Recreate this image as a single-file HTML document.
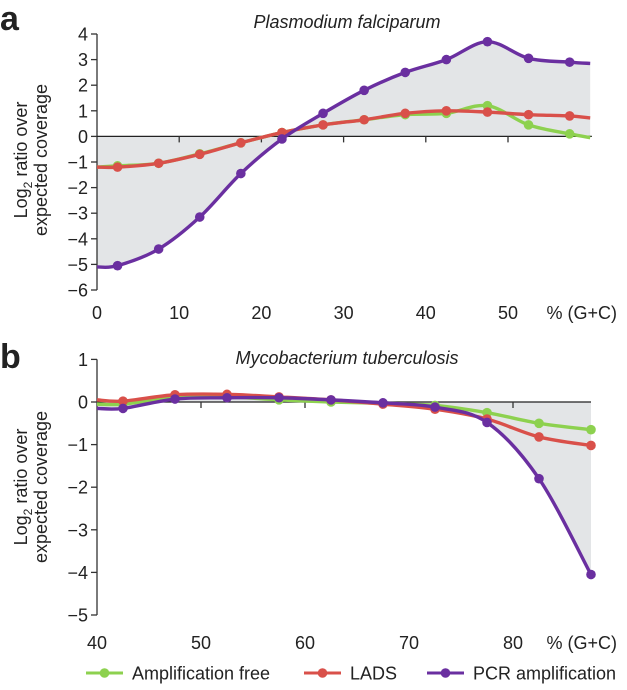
<!DOCTYPE html>
<html><head><meta charset="utf-8"><style>
body{margin:0;background:#fff;}
svg text{font-family:"Liberation Sans",sans-serif;fill:#222;}
</style></head><body>
<svg id="c" width="627" height="685"></svg>
<script>
const aX=[0,2.5,7.5,12.5,17.5,22.5,27.5,32.5,37.5,42.5,47.5,52.5,57.5,60];
const aPCR=[-5.1,-5.05,-4.4,-3.15,-1.45,-0.1,0.9,1.8,2.5,3.0,3.7,3.05,2.9,2.85];
const aLADS=[-1.2,-1.2,-1.05,-0.7,-0.25,0.15,0.45,0.65,0.9,1.0,0.95,0.85,0.8,0.72];
const aFree=[-1.2,-1.15,-1.05,-0.68,-0.25,0.15,0.45,0.65,0.85,0.9,1.2,0.45,0.1,-0.05];
const aXTicks=[0,10,20,30,40,50];
const aYTicks=[4,3,2,1,0,-1,-2,-3,-4,-5,-6];
const bX=[40,42.5,47.5,52.5,57.5,62.5,67.5,72.5,77.5,82.5,87.5];
const bPCR=[-0.15,-0.15,0.07,0.1,0.1,0.05,-0.02,-0.12,-0.48,-1.8,-4.05];
const bLADS=[0.05,0.02,0.17,0.18,0.12,0.05,-0.05,-0.17,-0.4,-0.82,-1.02];
const bFree=[-0.05,-0.05,0.1,0.12,0.05,0.0,-0.03,-0.08,-0.25,-0.5,-0.65];
const bXTicks=[40,50,60,70,80];
const bYTicks=[1,0,-1,-2,-3,-4,-5];
const COL={free:'#8dd14f',lads:'#d9504a',pcr:'#6a2fa0'};
const svg=document.getElementById('c');const NS='http://www.w3.org/2000/svg';
function el(t,a,txt){const e=document.createElementNS(NS,t);for(const k in a)e.setAttribute(k,a[k]);if(txt!=null)e.textContent=txt;svg.appendChild(e);return e;}
function smooth(p){let d='M'+p[0][0]+','+p[0][1];for(let i=0;i<p.length-1;i++){const p0=p[Math.max(0,i-1)],p1=p[i],p2=p[i+1],p3=p[Math.min(p.length-1,i+2)];d+=' C'+(p1[0]+(p2[0]-p0[0])/6)+','+(p1[1]+(p2[1]-p0[1])/6)+' '+(p2[0]-(p3[0]-p1[0])/6)+','+(p2[1]-(p3[1]-p1[1])/6)+' '+p2[0]+','+p2[1];}return d;}
function panel(o){
 const sx=v=>o.x0+(v-o.xmin)*o.kx, sy=v=>o.y0-v*o.ky;
 const g='p'+o.id;
 const pp=o.xs.map((x,i)=>[sx(x),sy(o.pcr[i])]);
 let d=smooth(pp)+' L'+sx(o.xs[o.xs.length-1])+','+sy(0)+' L'+sx(o.xs[0])+','+sy(0)+'Z';
 let f=el('path',{d:d,fill:'#e3e5e7'});
 
 let ya=el('line',{x1:o.x0,y1:sy(o.yt[0]),x2:o.x0,y2:sy(o.yt[o.yt.length-1]),stroke:'#333','stroke-width':1.3});
 
 let xa=el('line',{x1:o.x0,y1:sy(0),x2:sx(o.xend),y2:sy(0),stroke:'#222','stroke-width':1.3});
 
 o.yt.forEach(v=>{el('line',{x1:o.x0-6,y1:sy(v),x2:o.x0,y2:sy(v),stroke:'#333','stroke-width':1.3});
  const t=el('text',{x:o.x0-9,y:sy(v)+6.5,'text-anchor':'end','font-size':18},v<0?'\u2212'+(-v):''+v);
  });
 o.xt.forEach(v=>{if(v>o.xmin)el('line',{x1:sx(v),y1:sy(0),x2:sx(v),y2:sy(0)+6,stroke:'#333','stroke-width':1.3});
  const t=el('text',{x:sx(v),y:o.xly,'text-anchor':'middle','font-size':18},''+v);
  });
 let u=el('text',{x:617,y:o.xly,'text-anchor':'end','font-size':18},'% (G+C)');
 
 [['free',o.free],['lads',o.lads],['pcr',o.pcr]].forEach(([k,vals])=>{
  const pts=o.xs.map((x,i)=>[sx(x),sy(vals[i])]);
  const l=el('path',{d:smooth(pts),fill:'none',stroke:COL[k],'stroke-width':3.4});
  
  pts.forEach((p,i)=>{if(o.xs[i]%5!==2.5)return;const c=el('circle',{cx:p[0],cy:p[1],r:4.8,fill:COL[k]});
   });
 });
 let tt=el('text',{x:347,y:o.ty,'text-anchor':'middle','font-size':18,'font-style':'italic'},o.title);
 
 let lb=el('text',{x:0,y:o.ly,'font-size':34,'font-weight':'bold'},o.id);
 
 const yt=el('text',{transform:'translate(32,'+o.ymid+') rotate(-90)','text-anchor':'middle','font-size':18});
 
 const s1=document.createElementNS(NS,'tspan');s1.setAttribute('x',0);s1.setAttribute('dy',-5);s1.textContent='Log';yt.appendChild(s1);
 const s2=document.createElementNS(NS,'tspan');s2.setAttribute('font-size',12);s2.setAttribute('dy',5);s2.textContent='2';yt.appendChild(s2);
 const s3=document.createElementNS(NS,'tspan');s3.setAttribute('dy',-5);s3.textContent=' ratio over';yt.appendChild(s3);
 const s4=document.createElementNS(NS,'tspan');s4.setAttribute('x',0);s4.setAttribute('dy',20);s4.textContent='expected coverage';yt.appendChild(s4);
}
panel({id:'a',title:'Plasmodium falciparum',xs:aX,pcr:aPCR,lads:aLADS,free:aFree,xt:aXTicks,yt:aYTicks,x0:97,xmin:0,kx:8.22,xend:60.2,y0:136.4,ky:25.6,xly:319,ty:28,ly:30,ymid:160});
panel({id:'b',title:'Mycobacterium tuberculosis',xs:bX,pcr:bPCR,lads:bLADS,free:bFree,xt:bXTicks,yt:bYTicks,x0:97,xmin:40,kx:10.4,xend:87.5,y0:402,ky:42.6,xly:649,ty:364,ly:368,ymid:487});
[['free','Amplification free',86],['lads','LADS',304],['pcr','PCR amplification',427]].forEach(([k,t,x])=>{
 const l=el('line',{x1:x,y1:673,x2:x+37,y2:673,stroke:COL[k],'stroke-width':3});
 
 const c=el('circle',{cx:x+18.5,cy:673,r:4.8,fill:COL[k]});
 
 const tx=el('text',{x:x+46,y:679.5,'font-size':18},t);
 
});
</script></body></html>
